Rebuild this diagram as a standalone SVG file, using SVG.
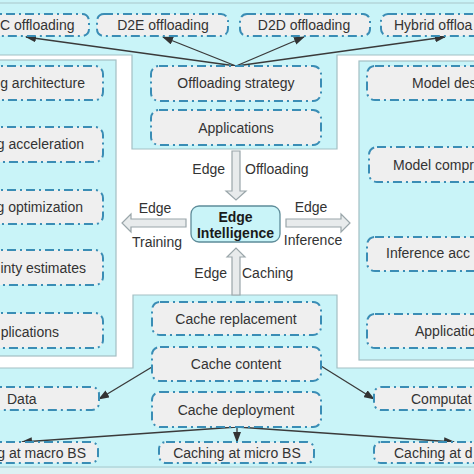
<svg xmlns="http://www.w3.org/2000/svg" width="474" height="474" viewBox="0 0 474 474">
<defs>
<style>
.t{font-family:"Liberation Sans",Arial,sans-serif;font-size:14px;fill:#333}
.c{text-anchor:middle}
.e{text-anchor:end}
.b{font-weight:bold;fill:#1a1a1a}
.box{fill:#efefef;stroke:#3a8db5;stroke-width:2;stroke-dasharray:9 4 2 4}
.panel{fill:#c9f4f8;stroke:#a3bfc4;stroke-width:1.2}
.ln{stroke:#3a3a3a;stroke-width:1.3;fill:none;marker-end:url(#ah)}
.blk{fill:#e8ebec;stroke:#9aa6aa;stroke-width:1.2}
</style>
<marker id="ah" markerUnits="userSpaceOnUse" markerWidth="11" markerHeight="8" refX="10" refY="4" orient="auto">
<path d="M0,0 L11,4 L0,8 z" fill="#333"/>
</marker>
</defs>
<rect x="0" y="0" width="474" height="474" fill="#c9f4f8"/>
<rect x="-5" y="3" width="484" height="464" fill="none" stroke="#a9c6ca" stroke-width="1"/>
<rect x="0" y="468" width="474" height="6" fill="#dcf1f3"/>
<g id="background">
<path d="M-10,55 L132,55 L132,149 L337,149 L337,55 L484,55 L484,368 L337,368 L337,295 L133,295 L133,368 L-10,368 Z" fill="#fff" stroke="#a3bfc4" stroke-width="1.2"/>
<rect class="panel" x="-10" y="60" width="126" height="296"/>
<rect class="panel" x="359" y="61" width="125" height="299"/>
</g>
<g id="connectors">
<line class="ln" x1="236" y1="66" x2="26" y2="37"/>
<line class="ln" x1="236" y1="66" x2="163" y2="37"/>
<line class="ln" x1="236" y1="66" x2="304" y2="37"/>
<line class="ln" x1="236" y1="66" x2="445" y2="37"/>
<line class="ln" x1="152" y1="367" x2="99" y2="399"/>
<line class="ln" x1="321" y1="366" x2="374" y2="399"/>
<line class="ln" x1="237" y1="427" x2="22" y2="442"/>
<line class="ln" x1="237" y1="427" x2="454" y2="442"/>
<line class="ln" x1="237" y1="427" x2="237" y2="442"/>
<polygon class="blk" points="232,151 240,151 240,191 246,191 236,200 226,191 232,191"/>
<polygon class="blk" points="232,295 232,257 227,257 236,248 245,257 240,257 240,295"/>
<polygon class="blk" points="186,219 131,219 131,214 122,223 131,232 131,227 186,227"/>
<polygon class="blk" points="286,219 341,219 341,214 350,223 341,232 341,227 286,227"/>
<text class="t e" x="225" y="174">Edge</text>
<text class="t" x="245" y="174">Offloading</text>
<text class="t c" x="155" y="213">Edge</text>
<text class="t c" x="157" y="247">Training</text>
<text class="t c" x="311" y="212">Edge</text>
<text class="t c" x="313" y="245">Inference</text>
<text class="t e" x="227" y="278">Edge</text>
<text class="t" x="242" y="278">Caching</text>
</g>
<g id="edge-intelligence">
<rect x="191" y="206" width="89" height="36" rx="8" fill="#c9f4f8" stroke="#5e8c99" stroke-width="1.3"/>
<text class="t c b" x="235.5" y="222">Edge</text>
<text class="t c b" x="235.5" y="238">Intelligence</text>
</g>
<g id="c-offloading"><rect class="box" x="-20" y="14" width="109" height="22" rx="7"/><text class="t" x="0" y="30">C offloading</text></g>
<g id="d2e-offloading"><rect class="box" x="97" y="14" width="131" height="22" rx="7"/><text class="t c" x="163" y="30">D2E offloading</text></g>
<g id="d2d-offloading"><rect class="box" x="240" y="14" width="130" height="22" rx="7"/><text class="t c" x="304" y="30">D2D offloading</text></g>
<g id="hybrid-offloading"><rect class="box" x="381" y="14" width="120" height="22" rx="7"/><text class="t" x="394" y="30">Hybrid offloa</text></g>
<g id="offloading-strategy"><rect class="box" x="151" y="66" width="170" height="35" rx="8"/><text class="t c" x="236" y="88">Offloading strategy</text></g>
<g id="applications-top"><rect class="box" x="151" y="110" width="170" height="35" rx="8"/><text class="t c" x="236" y="133">Applications</text></g>
<g id="architecture"><rect class="box" x="-20" y="66" width="123" height="34" rx="8"/><text class="t e" x="85" y="88">g architecture</text></g>
<g id="acceleration"><rect class="box" x="-20" y="127" width="123" height="35" rx="8"/><text class="t e" x="84" y="149">g acceleration</text></g>
<g id="optimization"><rect class="box" x="-20" y="190" width="123" height="34" rx="8"/><text class="t e" x="83" y="212">g optimization</text></g>
<g id="estimates"><rect class="box" x="-20" y="250" width="123" height="35" rx="8"/><text class="t e" x="86" y="273">inty estimates</text></g>
<g id="applications-left"><rect class="box" x="-20" y="313" width="123" height="35" rx="8"/><text class="t e" x="59" y="337">plications</text></g>
<g id="model-design"><rect class="box" x="367" y="66" width="130" height="34" rx="8"/><text class="t" x="412" y="88">Model des</text></g>
<g id="model-compression"><rect class="box" x="369" y="147" width="130" height="35" rx="8"/><text class="t" x="393" y="170">Model compr</text></g>
<g id="inference-acceleration"><rect class="box" x="367" y="237" width="130" height="34" rx="8"/><text class="t" x="386" y="258">Inference acc</text></g>
<g id="applications-right"><rect class="box" x="367" y="314" width="130" height="34" rx="8"/><text class="t" x="415" y="336">Applicatio</text></g>
<g id="cache-replacement"><rect class="box" x="152" y="302" width="169" height="33" rx="8"/><text class="t c" x="236" y="324">Cache replacement</text></g>
<g id="cache-content"><rect class="box" x="152" y="347" width="169" height="34" rx="8"/><text class="t c" x="236" y="369">Cache content</text></g>
<g id="cache-deployment"><rect class="box" x="152" y="392" width="169" height="35" rx="8"/><text class="t c" x="236" y="415">Cache deployment</text></g>
<g id="data"><rect class="box" x="-20" y="387" width="119" height="23" rx="7"/><text class="t" x="7" y="404">Data</text></g>
<g id="computation"><rect class="box" x="374" y="387" width="126" height="23" rx="7"/><text class="t" x="411" y="404">Computat</text></g>
<g id="macro-bs"><rect class="box" x="-20" y="442" width="118" height="21" rx="7"/><text class="t e" x="86" y="458">g at macro BS</text></g>
<g id="micro-bs"><rect class="box" x="159" y="442" width="155" height="21" rx="7"/><text class="t c" x="237" y="458">Caching at micro BS</text></g>
<g id="device"><rect class="box" x="374" y="442" width="126" height="21" rx="7"/><text class="t" x="394" y="458">Caching at d</text></g>
</svg>
